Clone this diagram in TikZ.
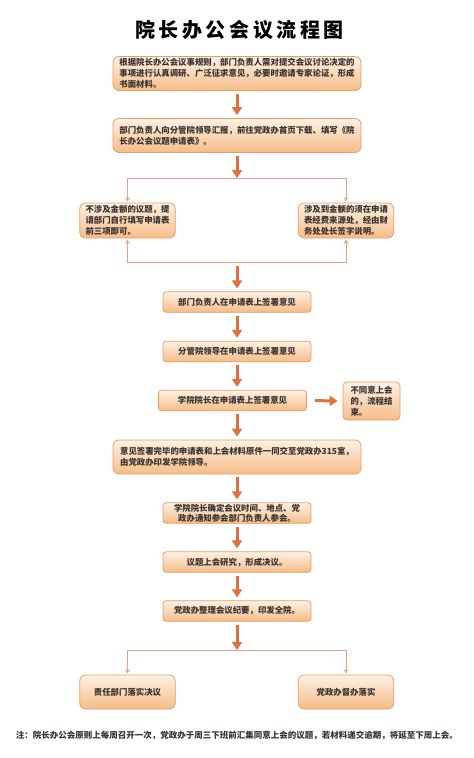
\documentclass[tikz,border=0pt]{standalone}
\usepackage{fontspec}
\newfontfamily\cjk{Noto Sans CJK SC}
\newfontfamily\titlecjk[LetterSpace=18]{Noto Sans CJK SC}
\usetikzlibrary{positioning,arrows.meta,calc}
\definecolor{boxtop}{HTML}{FDF1E4}
\definecolor{boxbot}{HTML}{F6BC88}
\definecolor{boxline}{HTML}{E5A066}
\definecolor{flowor}{HTML}{E2703A}
\definecolor{branchor}{HTML}{E9A084}
\definecolor{txtgray}{HTML}{3A3330}
\tikzset{
  flowbox/.style={draw=boxline,line width=0.8pt,rounded corners=6pt,
    top color=boxtop,bottom color=boxbot,text=txtgray,inner sep=0pt,
    font=\cjk\bfseries\fontsize{8.4}{11}\selectfont,align=left},
  widebox/.style={flowbox,minimum width=248pt,minimum height=34pt},
  midbox/.style={flowbox,minimum width=148pt,minimum height=20.5pt,
    align=center,rounded corners=3pt},
  sidebox/.style={flowbox,minimum width=95.5pt,minimum height=35pt},
  endbox/.style={flowbox,minimum width=57pt,minimum height=38pt,rounded corners=4pt},
  bigflow/.style={-{Triangle[length=8pt,width=10pt]},line width=3pt,flowor,
    shorten <=3pt,shorten >=3pt},
  branch/.style={-{Stealth[length=4.5pt,width=4.5pt]},line width=0.9pt,branchor,
    shorten >=1pt},
  titlelbl/.style={font=\titlecjk\bfseries\fontsize{20}{24}\selectfont,text=black},
  notelbl/.style={font=\cjk\bfseries\fontsize{8.5}{11}\selectfont,text=txtgray},
}
\begin{document}
\begin{tikzpicture}[x=1pt,y=-1pt]
  \useasboundingbox[fill=white] (0,0) rectangle (474,758);
  \node[titlelbl] (title) at (239.5,30) {院长办公会议流程图};
  % main column
  \node[widebox] (rule) at (237,73.5) {根据院长办公会议事规则，部门负责人需对提交会议讨论决定的\\
    事项进行认真调研、广泛征求意见，必要时邀请专家论证，形成\\书面材料。};
  \node[widebox] (report) at (237,135.5) {部门负责人向分管院领导汇报，前往党政办首页下载、填写《院\\
    长办公会议题申请表》。};
  \node[sidebox] (nofund) at (127.5,220.5) {不涉及金额的议题，提\\请部门自行填写申请表\\前三项即可。};
  \node[sidebox] (fund) at (346,220.5) {涉及到金额的须在申请\\表经费来源处，经由财\\务处处长签字说明。};
  \node[midbox] (deptsign) at (237,302) {部门负责人在申请表上签署意见};
  \node[midbox] (leadsign) at (237,351.5) {分管院领导在申请表上签署意见};
  \node[midbox] (deansign) at (232.5,400.5) {学院院长在申请表上签署意见};
  \node[endbox] (stop) at (371.5,401) {不同意上会\\的，流程结\\束。};
  \node[widebox] (submit) at (237,457) {意见签署完毕的申请表和上会材料原件一同交至党政办315室，\\
    由党政办印发学院领导。};
  \node[midbox,font=\cjk\bfseries\fontsize{8.4}{10.3}\selectfont] (notify) at (237,513)
    {学院院长确定会议时间、地点、党\\政办通知参会部门负责人参会。};
  \node[midbox] (meet) at (237,562) {议题上会研究，形成决议。};
  \node[midbox] (minutes) at (237,611) {党政办整理会议纪要，印发全院。};
  \node[sidebox,minimum height=34pt,align=center] (carry) at (127.5,692) {责任部门落实决议};
  \node[sidebox,minimum height=34pt,align=center] (supervise) at (346,692) {党政办督办落实};
  \node[notelbl] (note) at (237,735) {注：院长办公会原则上每周召开一次，党政办于周三下班前汇集同意上会的议题，若材料递交逾期，将延至下周上会。};
  % split and merge points
  \coordinate (split) at (237,178);
  \coordinate (merge) at (237,262);
  \coordinate (split2) at (237,650);
  % connectors
  \draw[bigflow] (rule) -- (report);
  \draw[bigflow,shorten >=0pt] (report) -- (split);
  \draw[branch] (split) -| (nofund.north);
  \draw[branch] (split) -| (fund.north);
  \draw[branch] (merge) -| (nofund.south);
  \draw[branch] (merge) -| (fund.south);
  \draw[bigflow,shorten <=4pt] (merge) -- (deptsign);
  \draw[bigflow] (deptsign) -- (leadsign);
  \draw[bigflow] (leadsign.south) -- (leadsign.south |- deansign.north);
  \draw[bigflow,shorten <=8pt,shorten >=5pt] (deansign.east) -- (stop.west);
  \draw[bigflow] (submit.north |- deansign.south) -- (submit.north);
  \draw[bigflow] (submit) -- (notify);
  \draw[bigflow] (notify) -- (meet);
  \draw[bigflow] (meet) -- (minutes);
  \draw[bigflow,shorten >=0pt] (minutes) -- (split2);
  \draw[branch] (split2) -| (carry.north);
  \draw[branch] (split2) -| (supervise.north);
\end{tikzpicture}
\end{document}
